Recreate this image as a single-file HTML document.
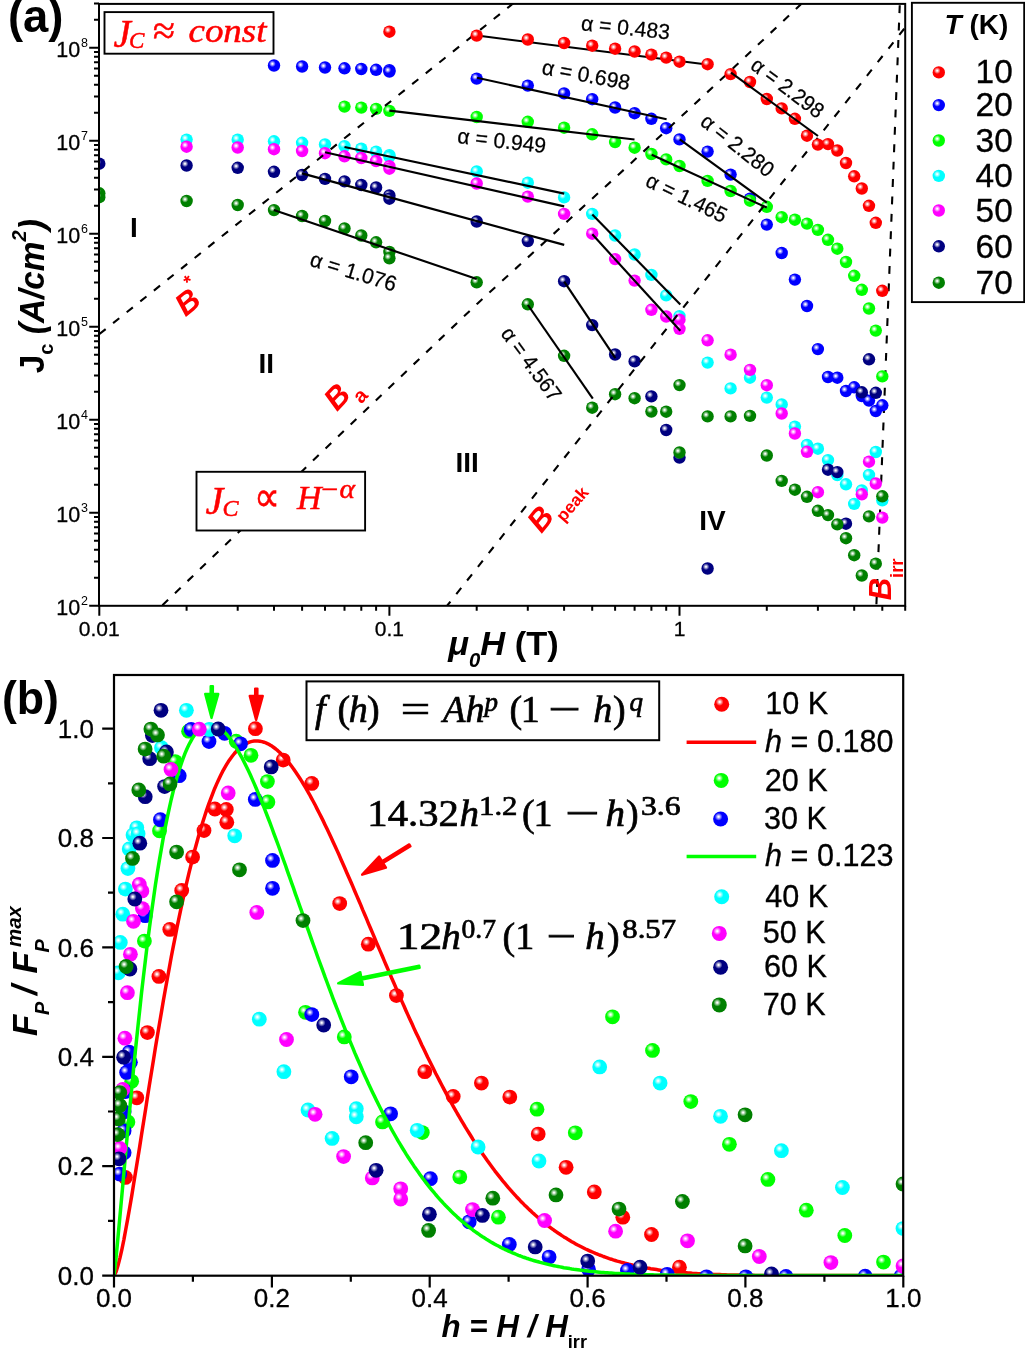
<!DOCTYPE html><html><head><meta charset="utf-8"><title>Figure</title>
<style>html,body{margin:0;padding:0;background:#fff}svg{display:block}text{font-family:"Liberation Sans",Arial,sans-serif;fill:#000}.t{stroke:#000;stroke-width:.3px}.s{font-family:"Liberation Serif","Times New Roman",serif}.b{font-weight:bold}.i{font-style:italic}.r{fill:#f00}</style></head><body>
<svg width="1025" height="1356" viewBox="0 0 1025 1356">
<defs>
<radialGradient id="gr" cx="0.37" cy="0.36" r="0.27"><stop offset="0" stop-color="#fff"/><stop offset="0.12" stop-color="#fff"/><stop offset="1" stop-color="#ff0000"/></radialGradient>
<radialGradient id="hr" cx="0.365" cy="0.35" r="0.26"><stop offset="0" stop-color="#fff"/><stop offset="0.12" stop-color="#fff"/><stop offset="1" stop-color="#ff0000"/></radialGradient>
<radialGradient id="gb" cx="0.37" cy="0.36" r="0.27"><stop offset="0" stop-color="#fff"/><stop offset="0.12" stop-color="#fff"/><stop offset="1" stop-color="#0000ff"/></radialGradient>
<radialGradient id="hb" cx="0.365" cy="0.35" r="0.26"><stop offset="0" stop-color="#fff"/><stop offset="0.12" stop-color="#fff"/><stop offset="1" stop-color="#0000ff"/></radialGradient>
<radialGradient id="gg" cx="0.37" cy="0.36" r="0.27"><stop offset="0" stop-color="#fff"/><stop offset="0.12" stop-color="#fff"/><stop offset="1" stop-color="#00ff00"/></radialGradient>
<radialGradient id="hg" cx="0.365" cy="0.35" r="0.26"><stop offset="0" stop-color="#fff"/><stop offset="0.12" stop-color="#fff"/><stop offset="1" stop-color="#00ff00"/></radialGradient>
<radialGradient id="gc" cx="0.37" cy="0.36" r="0.27"><stop offset="0" stop-color="#fff"/><stop offset="0.12" stop-color="#fff"/><stop offset="1" stop-color="#00ffff"/></radialGradient>
<radialGradient id="hc" cx="0.365" cy="0.35" r="0.26"><stop offset="0" stop-color="#fff"/><stop offset="0.12" stop-color="#fff"/><stop offset="1" stop-color="#00ffff"/></radialGradient>
<radialGradient id="gm" cx="0.37" cy="0.36" r="0.27"><stop offset="0" stop-color="#fff"/><stop offset="0.12" stop-color="#fff"/><stop offset="1" stop-color="#ff00ff"/></radialGradient>
<radialGradient id="hm" cx="0.365" cy="0.35" r="0.26"><stop offset="0" stop-color="#fff"/><stop offset="0.12" stop-color="#fff"/><stop offset="1" stop-color="#ff00ff"/></radialGradient>
<radialGradient id="gn" cx="0.37" cy="0.36" r="0.27"><stop offset="0" stop-color="#fff"/><stop offset="0.12" stop-color="#fff"/><stop offset="1" stop-color="#000080"/></radialGradient>
<radialGradient id="hn" cx="0.365" cy="0.35" r="0.26"><stop offset="0" stop-color="#fff"/><stop offset="0.12" stop-color="#fff"/><stop offset="1" stop-color="#000080"/></radialGradient>
<radialGradient id="gd" cx="0.37" cy="0.36" r="0.27"><stop offset="0" stop-color="#fff"/><stop offset="0.12" stop-color="#fff"/><stop offset="1" stop-color="#008000"/></radialGradient>
<radialGradient id="hd" cx="0.365" cy="0.35" r="0.26"><stop offset="0" stop-color="#fff"/><stop offset="0.12" stop-color="#fff"/><stop offset="1" stop-color="#008000"/></radialGradient>
<clipPath id="ca"><rect x="99.0" y="3.9" width="806.2" height="601.9"/></clipPath>
<clipPath id="cb"><rect x="114" y="675" width="789.2" height="600.7"/></clipPath>
</defs>
<rect width="1025" height="1356" fill="#fff"/>
<g clip-path="url(#ca)">
<g stroke="#000" stroke-width="2" fill="none">
<line x1="477" y1="35.6" x2="703" y2="64"/>
<line x1="899.75" y1="5.2" x2="876.4" y2="604.5" stroke-width="2.1" stroke-dasharray="7.9 9.5"/>
</g>
<circle cx="274.0" cy="65.5" r="6.2" fill="url(#gb)"/><circle cx="302.1" cy="66.5" r="6.2" fill="url(#gb)"/><circle cx="325.0" cy="67.5" r="6.2" fill="url(#gb)"/><circle cx="344.5" cy="68.3" r="6.2" fill="url(#gb)"/><circle cx="361.3" cy="69.0" r="6.2" fill="url(#gb)"/><circle cx="376.1" cy="69.8" r="6.2" fill="url(#gb)"/><circle cx="389.4" cy="70.2" r="6.2" fill="url(#gb)"/><circle cx="389.4" cy="71.6" r="6.2" fill="url(#gb)"/><circle cx="476.7" cy="78.6" r="6.2" fill="url(#gb)"/><circle cx="527.8" cy="85.6" r="6.2" fill="url(#gb)"/><circle cx="564.1" cy="93.4" r="6.2" fill="url(#gb)"/><circle cx="592.2" cy="99.2" r="6.2" fill="url(#gb)"/><circle cx="615.1" cy="107.5" r="6.2" fill="url(#gb)"/><circle cx="634.6" cy="113.2" r="6.2" fill="url(#gb)"/><circle cx="651.4" cy="118.8" r="6.2" fill="url(#gb)"/><circle cx="666.2" cy="128.2" r="6.2" fill="url(#gb)"/><circle cx="679.5" cy="139.4" r="6.2" fill="url(#gb)"/><circle cx="707.6" cy="151.6" r="6.2" fill="url(#gb)"/><circle cx="730.6" cy="174.6" r="6.2" fill="url(#gb)"/><circle cx="750.0" cy="198.7" r="6.2" fill="url(#gb)"/><circle cx="766.8" cy="224.6" r="6.2" fill="url(#gb)"/><circle cx="781.7" cy="253.0" r="6.2" fill="url(#gb)"/><circle cx="794.9" cy="279.6" r="6.2" fill="url(#gb)"/><circle cx="807.0" cy="306.0" r="6.2" fill="url(#gb)"/><circle cx="817.9" cy="349.1" r="6.2" fill="url(#gb)"/><circle cx="828.0" cy="377.0" r="6.2" fill="url(#gb)"/><circle cx="837.3" cy="377.7" r="6.2" fill="url(#gb)"/><circle cx="846.0" cy="391.0" r="6.2" fill="url(#gb)"/><circle cx="854.2" cy="387.3" r="6.2" fill="url(#gb)"/><circle cx="861.8" cy="396.0" r="6.2" fill="url(#gb)"/><circle cx="869.0" cy="400.6" r="6.2" fill="url(#gb)"/><circle cx="875.8" cy="411.0" r="6.2" fill="url(#gb)"/><circle cx="882.3" cy="405.3" r="6.2" fill="url(#gb)"/>
<circle cx="344.5" cy="106.6" r="6.2" fill="url(#gg)"/><circle cx="361.3" cy="107.6" r="6.2" fill="url(#gg)"/><circle cx="376.1" cy="108.9" r="6.2" fill="url(#gg)"/><circle cx="389.4" cy="110.9" r="6.2" fill="url(#gg)"/><circle cx="476.7" cy="117.0" r="6.2" fill="url(#gg)"/><circle cx="527.8" cy="121.8" r="6.2" fill="url(#gg)"/><circle cx="564.1" cy="127.7" r="6.2" fill="url(#gg)"/><circle cx="592.2" cy="134.3" r="6.2" fill="url(#gg)"/><circle cx="615.1" cy="142.1" r="6.2" fill="url(#gg)"/><circle cx="634.6" cy="147.7" r="6.2" fill="url(#gg)"/><circle cx="651.4" cy="154.0" r="6.2" fill="url(#gg)"/><circle cx="666.2" cy="159.4" r="6.2" fill="url(#gg)"/><circle cx="679.5" cy="166.0" r="6.2" fill="url(#gg)"/><circle cx="707.6" cy="180.9" r="6.2" fill="url(#gg)"/><circle cx="730.6" cy="191.0" r="6.2" fill="url(#gg)"/><circle cx="750.0" cy="200.7" r="6.2" fill="url(#gg)"/><circle cx="766.8" cy="206.8" r="6.2" fill="url(#gg)"/><circle cx="781.7" cy="217.2" r="6.2" fill="url(#gg)"/><circle cx="794.9" cy="219.7" r="6.2" fill="url(#gg)"/><circle cx="807.0" cy="223.6" r="6.2" fill="url(#gg)"/><circle cx="817.9" cy="229.9" r="6.2" fill="url(#gg)"/><circle cx="828.0" cy="239.8" r="6.2" fill="url(#gg)"/><circle cx="837.3" cy="248.7" r="6.2" fill="url(#gg)"/><circle cx="846.0" cy="262.0" r="6.2" fill="url(#gg)"/><circle cx="854.2" cy="275.8" r="6.2" fill="url(#gg)"/><circle cx="861.8" cy="289.8" r="6.2" fill="url(#gg)"/><circle cx="869.0" cy="308.5" r="6.2" fill="url(#gg)"/><circle cx="875.8" cy="330.6" r="6.2" fill="url(#gg)"/><circle cx="882.3" cy="376.4" r="6.2" fill="url(#gg)"/>
<circle cx="186.6" cy="139.6" r="6.2" fill="url(#gc)"/><circle cx="237.7" cy="139.7" r="6.2" fill="url(#gc)"/><circle cx="274.0" cy="141.3" r="6.2" fill="url(#gc)"/><circle cx="302.1" cy="142.8" r="6.2" fill="url(#gc)"/><circle cx="325.0" cy="144.4" r="6.2" fill="url(#gc)"/><circle cx="344.5" cy="146.1" r="6.2" fill="url(#gc)"/><circle cx="361.3" cy="148.7" r="6.2" fill="url(#gc)"/><circle cx="376.1" cy="151.6" r="6.2" fill="url(#gc)"/><circle cx="389.4" cy="155.2" r="6.2" fill="url(#gc)"/><circle cx="389.4" cy="156.6" r="6.2" fill="url(#gc)"/><circle cx="476.7" cy="171.5" r="6.2" fill="url(#gc)"/><circle cx="527.8" cy="182.7" r="6.2" fill="url(#gc)"/><circle cx="564.1" cy="197.4" r="6.2" fill="url(#gc)"/><circle cx="592.2" cy="213.9" r="6.2" fill="url(#gc)"/><circle cx="615.1" cy="235.5" r="6.2" fill="url(#gc)"/><circle cx="634.6" cy="254.5" r="6.2" fill="url(#gc)"/><circle cx="651.4" cy="274.9" r="6.2" fill="url(#gc)"/><circle cx="666.2" cy="295.4" r="6.2" fill="url(#gc)"/><circle cx="679.5" cy="316.1" r="6.2" fill="url(#gc)"/><circle cx="707.6" cy="362.6" r="6.2" fill="url(#gc)"/><circle cx="730.6" cy="388.4" r="6.2" fill="url(#gc)"/><circle cx="750.0" cy="377.7" r="6.2" fill="url(#gc)"/><circle cx="766.8" cy="397.6" r="6.2" fill="url(#gc)"/><circle cx="781.7" cy="404.4" r="6.2" fill="url(#gc)"/><circle cx="794.9" cy="426.6" r="6.2" fill="url(#gc)"/><circle cx="807.0" cy="445.0" r="6.2" fill="url(#gc)"/><circle cx="817.9" cy="448.7" r="6.2" fill="url(#gc)"/><circle cx="828.0" cy="460.1" r="6.2" fill="url(#gc)"/><circle cx="837.3" cy="475.0" r="6.2" fill="url(#gc)"/><circle cx="846.0" cy="484.3" r="6.2" fill="url(#gc)"/><circle cx="854.2" cy="503.9" r="6.2" fill="url(#gc)"/><circle cx="861.8" cy="490.5" r="6.2" fill="url(#gc)"/><circle cx="869.0" cy="475.0" r="6.2" fill="url(#gc)"/><circle cx="875.8" cy="452.0" r="6.2" fill="url(#gc)"/><circle cx="882.3" cy="500.3" r="6.2" fill="url(#gc)"/>
<circle cx="186.6" cy="146.7" r="6.2" fill="url(#gm)"/><circle cx="237.7" cy="147.5" r="6.2" fill="url(#gm)"/><circle cx="274.0" cy="149.2" r="6.2" fill="url(#gm)"/><circle cx="302.1" cy="151.0" r="6.2" fill="url(#gm)"/><circle cx="325.0" cy="153.2" r="6.2" fill="url(#gm)"/><circle cx="344.5" cy="156.3" r="6.2" fill="url(#gm)"/><circle cx="361.3" cy="158.0" r="6.2" fill="url(#gm)"/><circle cx="376.1" cy="161.0" r="6.2" fill="url(#gm)"/><circle cx="389.4" cy="166.2" r="6.2" fill="url(#gm)"/><circle cx="389.4" cy="168.7" r="6.2" fill="url(#gm)"/><circle cx="476.7" cy="183.5" r="6.2" fill="url(#gm)"/><circle cx="527.8" cy="196.6" r="6.2" fill="url(#gm)"/><circle cx="564.1" cy="213.9" r="6.2" fill="url(#gm)"/><circle cx="592.2" cy="233.7" r="6.2" fill="url(#gm)"/><circle cx="615.1" cy="259.1" r="6.2" fill="url(#gm)"/><circle cx="634.6" cy="280.6" r="6.2" fill="url(#gm)"/><circle cx="651.4" cy="309.8" r="6.2" fill="url(#gm)"/><circle cx="666.2" cy="316.5" r="6.2" fill="url(#gm)"/><circle cx="679.5" cy="319.7" r="6.2" fill="url(#gm)"/><circle cx="679.5" cy="328.8" r="6.2" fill="url(#gm)"/><circle cx="707.6" cy="340.3" r="6.2" fill="url(#gm)"/><circle cx="730.6" cy="354.7" r="6.2" fill="url(#gm)"/><circle cx="750.0" cy="369.9" r="6.2" fill="url(#gm)"/><circle cx="766.8" cy="385.2" r="6.2" fill="url(#gm)"/><circle cx="781.7" cy="413.5" r="6.2" fill="url(#gm)"/><circle cx="794.9" cy="433.5" r="6.2" fill="url(#gm)"/><circle cx="807.0" cy="451.8" r="6.2" fill="url(#gm)"/><circle cx="817.9" cy="492.2" r="6.2" fill="url(#gm)"/><circle cx="861.8" cy="494.3" r="6.2" fill="url(#gm)"/><circle cx="869.0" cy="461.7" r="6.2" fill="url(#gm)"/><circle cx="875.8" cy="483.5" r="6.2" fill="url(#gm)"/><circle cx="882.3" cy="517.6" r="6.2" fill="url(#gm)"/>
<circle cx="99.3" cy="163.7" r="6.2" fill="url(#gn)"/><circle cx="186.6" cy="165.5" r="6.2" fill="url(#gn)"/><circle cx="237.7" cy="167.8" r="6.2" fill="url(#gn)"/><circle cx="274.0" cy="171.8" r="6.2" fill="url(#gn)"/><circle cx="302.1" cy="175.0" r="6.2" fill="url(#gn)"/><circle cx="325.0" cy="178.9" r="6.2" fill="url(#gn)"/><circle cx="344.5" cy="181.4" r="6.2" fill="url(#gn)"/><circle cx="361.3" cy="185.0" r="6.2" fill="url(#gn)"/><circle cx="376.1" cy="187.5" r="6.2" fill="url(#gn)"/><circle cx="389.4" cy="195.4" r="6.2" fill="url(#gn)"/><circle cx="389.4" cy="198.7" r="6.2" fill="url(#gn)"/><circle cx="476.7" cy="221.5" r="6.2" fill="url(#gn)"/><circle cx="527.8" cy="241.1" r="6.2" fill="url(#gn)"/><circle cx="564.1" cy="281.2" r="6.2" fill="url(#gn)"/><circle cx="592.2" cy="325.1" r="6.2" fill="url(#gn)"/><circle cx="615.1" cy="354.5" r="6.2" fill="url(#gn)"/><circle cx="634.6" cy="361.4" r="6.2" fill="url(#gn)"/><circle cx="651.4" cy="396.4" r="6.2" fill="url(#gn)"/><circle cx="666.2" cy="430.0" r="6.2" fill="url(#gn)"/><circle cx="679.5" cy="457.6" r="6.2" fill="url(#gn)"/><circle cx="707.6" cy="568.5" r="6.2" fill="url(#gn)"/><circle cx="828.0" cy="469.7" r="6.2" fill="url(#gn)"/><circle cx="837.3" cy="472.1" r="6.2" fill="url(#gn)"/><circle cx="846.0" cy="523.7" r="6.2" fill="url(#gn)"/><circle cx="861.8" cy="392.3" r="6.2" fill="url(#gn)"/><circle cx="869.0" cy="359.3" r="6.2" fill="url(#gn)"/><circle cx="875.8" cy="392.8" r="6.2" fill="url(#gn)"/>
<circle cx="99.3" cy="193.3" r="6.2" fill="url(#gd)"/><circle cx="99.3" cy="197.2" r="6.2" fill="url(#gd)"/><circle cx="186.6" cy="201.0" r="6.2" fill="url(#gd)"/><circle cx="237.7" cy="205.0" r="6.2" fill="url(#gd)"/><circle cx="274.0" cy="210.1" r="6.2" fill="url(#gd)"/><circle cx="302.1" cy="216.0" r="6.2" fill="url(#gd)"/><circle cx="325.0" cy="221.0" r="6.2" fill="url(#gd)"/><circle cx="344.5" cy="228.4" r="6.2" fill="url(#gd)"/><circle cx="361.3" cy="235.5" r="6.2" fill="url(#gd)"/><circle cx="376.1" cy="242.3" r="6.2" fill="url(#gd)"/><circle cx="389.4" cy="252.0" r="6.2" fill="url(#gd)"/><circle cx="389.4" cy="258.3" r="6.2" fill="url(#gd)"/><circle cx="476.7" cy="282.3" r="6.2" fill="url(#gd)"/><circle cx="527.8" cy="304.3" r="6.2" fill="url(#gd)"/><circle cx="564.1" cy="355.8" r="6.2" fill="url(#gd)"/><circle cx="592.2" cy="407.7" r="6.2" fill="url(#gd)"/><circle cx="615.1" cy="394.2" r="6.2" fill="url(#gd)"/><circle cx="634.6" cy="398.2" r="6.2" fill="url(#gd)"/><circle cx="651.4" cy="411.6" r="6.2" fill="url(#gd)"/><circle cx="666.2" cy="411.7" r="6.2" fill="url(#gd)"/><circle cx="679.5" cy="385.1" r="6.2" fill="url(#gd)"/><circle cx="679.5" cy="452.5" r="6.2" fill="url(#gd)"/><circle cx="707.6" cy="416.4" r="6.2" fill="url(#gd)"/><circle cx="730.6" cy="416.4" r="6.2" fill="url(#gd)"/><circle cx="750.0" cy="415.9" r="6.2" fill="url(#gd)"/><circle cx="766.8" cy="455.5" r="6.2" fill="url(#gd)"/><circle cx="781.7" cy="480.9" r="6.2" fill="url(#gd)"/><circle cx="794.9" cy="489.7" r="6.2" fill="url(#gd)"/><circle cx="807.0" cy="496.8" r="6.2" fill="url(#gd)"/><circle cx="817.9" cy="510.8" r="6.2" fill="url(#gd)"/><circle cx="828.0" cy="515.1" r="6.2" fill="url(#gd)"/><circle cx="837.3" cy="524.4" r="6.2" fill="url(#gd)"/><circle cx="846.0" cy="538.2" r="6.2" fill="url(#gd)"/><circle cx="854.2" cy="555.2" r="6.2" fill="url(#gd)"/><circle cx="861.8" cy="575.5" r="6.2" fill="url(#gd)"/><circle cx="869.0" cy="516.4" r="6.2" fill="url(#gd)"/><circle cx="875.8" cy="563.7" r="6.2" fill="url(#gd)"/><circle cx="882.3" cy="496.3" r="6.2" fill="url(#gd)"/>
<g stroke="#000" stroke-width="2.1" fill="none" stroke-dasharray="7.9 9.5">
<line x1="99.5" y1="334" x2="513.4" y2="3.3"/>
<path d="M162.4 605.2L223.85 546.3L351.7 423.4L477.6 303.4L569.3 219.5L631 163.2L734.9 66.6L801.2 4"/>
<line x1="447.3" y1="605.5" x2="904.4" y2="28.5" stroke-dashoffset="2.9"/>
</g>
<circle cx="389.4" cy="31.7" r="6.2" fill="url(#gr)"/><circle cx="476.7" cy="35.6" r="6.2" fill="url(#gr)"/><circle cx="527.8" cy="39.5" r="6.2" fill="url(#gr)"/><circle cx="564.1" cy="43.0" r="6.2" fill="url(#gr)"/><circle cx="592.2" cy="45.7" r="6.2" fill="url(#gr)"/><circle cx="615.1" cy="48.7" r="6.2" fill="url(#gr)"/><circle cx="634.6" cy="51.5" r="6.2" fill="url(#gr)"/><circle cx="651.4" cy="54.6" r="6.2" fill="url(#gr)"/><circle cx="666.2" cy="57.6" r="6.2" fill="url(#gr)"/><circle cx="679.5" cy="61.7" r="6.2" fill="url(#gr)"/><circle cx="707.6" cy="64.2" r="6.2" fill="url(#gr)"/><circle cx="730.6" cy="74.1" r="6.2" fill="url(#gr)"/><circle cx="750.0" cy="82.0" r="6.2" fill="url(#gr)"/><circle cx="766.8" cy="99.0" r="6.2" fill="url(#gr)"/><circle cx="781.7" cy="108.4" r="6.2" fill="url(#gr)"/><circle cx="794.9" cy="118.8" r="6.2" fill="url(#gr)"/><circle cx="807.0" cy="135.7" r="6.2" fill="url(#gr)"/><circle cx="817.9" cy="144.6" r="6.2" fill="url(#gr)"/><circle cx="828.0" cy="144.1" r="6.2" fill="url(#gr)"/><circle cx="837.3" cy="150.5" r="6.2" fill="url(#gr)"/><circle cx="846.0" cy="163.0" r="6.2" fill="url(#gr)"/><circle cx="854.2" cy="176.3" r="6.2" fill="url(#gr)"/><circle cx="861.8" cy="188.5" r="6.2" fill="url(#gr)"/><circle cx="869.0" cy="205.8" r="6.2" fill="url(#gr)"/><circle cx="875.8" cy="222.8" r="6.2" fill="url(#gr)"/><circle cx="882.3" cy="290.8" r="6.2" fill="url(#gr)"/>
<g stroke="#000" stroke-width="2.15" fill="none">
<line x1="477.0" y1="77.8" x2="666.6" y2="119.2"/>
<line x1="389.4" y1="110.6" x2="634.5" y2="139.5"/>
<line x1="344.5" y1="147.0" x2="564.2" y2="193.6"/>
<line x1="325.0" y1="152.2" x2="564.2" y2="206.4"/>
<line x1="302.0" y1="173.4" x2="564.2" y2="244.9"/>
<line x1="273.8" y1="210.0" x2="476.7" y2="279.0"/>
<line x1="731.0" y1="72.7" x2="818.0" y2="136.0"/>
<line x1="679.8" y1="139.3" x2="766.8" y2="202.6"/>
<line x1="651.7" y1="154.7" x2="766.8" y2="207.6"/>
<line x1="592.3" y1="214.4" x2="680.3" y2="304.6"/>
<line x1="592.3" y1="234.3" x2="680.3" y2="330.8"/>
<line x1="564.2" y1="281.6" x2="615.4" y2="358.2"/>
<line x1="527.9" y1="305.0" x2="592.8" y2="398.6"/>
</g>
</g>
<rect x="196.5" y="471.8" width="168.6" height="58.7" fill="#fff" stroke="#000" stroke-width="1.9"/>
<rect x="104.5" y="12.1" width="169" height="41.6" fill="#fff" stroke="#000" stroke-width="1.9"/>
<rect x="99.0" y="3.9" width="806.2" height="601.9" fill="none" stroke="#000" stroke-width="2"/>
<path d="M99.0 605.8H89.2M99.0 577.8H94.0M99.0 561.4H94.0M99.0 549.8H94.0M99.0 540.8H94.0M99.0 533.4H94.0M99.0 527.2H94.0M99.0 521.8H94.0M99.0 517.1H94.0M99.0 512.8H89.2M99.0 484.8H94.0M99.0 468.4H94.0M99.0 456.8H94.0M99.0 447.8H94.0M99.0 440.4H94.0M99.0 434.2H94.0M99.0 428.8H94.0M99.0 424.1H94.0M99.0 419.8H89.2M99.0 391.8H94.0M99.0 375.4H94.0M99.0 363.8H94.0M99.0 354.8H94.0M99.0 347.4H94.0M99.0 341.2H94.0M99.0 335.8H94.0M99.0 331.1H94.0M99.0 326.8H89.2M99.0 298.8H94.0M99.0 282.4H94.0M99.0 270.8H94.0M99.0 261.8H94.0M99.0 254.4H94.0M99.0 248.2H94.0M99.0 242.8H94.0M99.0 238.1H94.0M99.0 233.8H89.2M99.0 205.8H94.0M99.0 189.4H94.0M99.0 177.8H94.0M99.0 168.8H94.0M99.0 161.4H94.0M99.0 155.2H94.0M99.0 149.8H94.0M99.0 145.1H94.0M99.0 140.8H89.2M99.0 112.8H94.0M99.0 96.4H94.0M99.0 84.8H94.0M99.0 75.8H94.0M99.0 68.4H94.0M99.0 62.2H94.0M99.0 56.8H94.0M99.0 52.1H94.0M99.0 47.8H89.2M99.0 19.8H94.0M99.0 3.4H94.0M99.3 605.8V615.8M186.6 605.8V610.8M237.7 605.8V610.8M274.0 605.8V610.8M302.1 605.8V610.8M325.0 605.8V610.8M344.5 605.8V610.8M361.3 605.8V610.8M376.1 605.8V610.8M389.4 605.8V615.8M476.7 605.8V610.8M527.8 605.8V610.8M564.1 605.8V610.8M592.2 605.8V610.8M615.1 605.8V610.8M634.6 605.8V610.8M651.4 605.8V610.8M666.2 605.8V610.8M679.5 605.8V615.8M766.8 605.8V610.8M817.9 605.8V610.8M854.2 605.8V610.8M882.3 605.8V610.8M905.2 605.8V610.8" stroke="#000" stroke-width="2" fill="none"/>
<text x="80.2" y="614.7" font-size="21.5" text-anchor="end" class="t">10</text><text x="81" y="604.5" font-size="12.5">2</text>
<text x="80.2" y="521.7" font-size="21.5" text-anchor="end" class="t">10</text><text x="81" y="511.5" font-size="12.5">3</text>
<text x="80.2" y="428.7" font-size="21.5" text-anchor="end" class="t">10</text><text x="81" y="418.5" font-size="12.5">4</text>
<text x="80.2" y="335.7" font-size="21.5" text-anchor="end" class="t">10</text><text x="81" y="325.5" font-size="12.5">5</text>
<text x="80.2" y="242.7" font-size="21.5" text-anchor="end" class="t">10</text><text x="81" y="232.5" font-size="12.5">6</text>
<text x="80.2" y="149.7" font-size="21.5" text-anchor="end" class="t">10</text><text x="81" y="139.5" font-size="12.5">7</text>
<text x="80.2" y="56.7" font-size="21.5" text-anchor="end" class="t">10</text><text x="81" y="46.5" font-size="12.5">8</text>
<text x="99.3" y="636.2" font-size="21" text-anchor="middle" class="t">0.01</text>
<text x="389.4" y="636.2" font-size="21" text-anchor="middle" class="t">0.1</text>
<text x="679.5" y="636.2" font-size="21" text-anchor="middle" class="t">1</text>
<text x="448.2" y="654.6" font-size="34" class="b i" textLength="110.5" lengthAdjust="spacingAndGlyphs">μ<tspan font-size="20" dy="12.4">0</tspan><tspan dy="-12.4">H</tspan><tspan font-style="normal"> (T)</tspan></text>
<g transform="translate(43.7,373.2) rotate(-90)"><text x="0" y="0" font-size="35" class="b i" textLength="154" lengthAdjust="spacingAndGlyphs"><tspan font-style="normal">J</tspan><tspan font-size="21" dy="9" font-style="normal">c</tspan><tspan dy="-9"> (A/cm</tspan><tspan font-size="21" dy="-18">2</tspan><tspan dy="18">)</tspan></text></g>
<text x="8" y="32.2" font-size="46" class="b" textLength="55.5" lengthAdjust="spacingAndGlyphs">(a)</text>
<text x="134" y="237.1" font-size="28" class="b" text-anchor="middle">I</text>
<text x="266.3" y="372.7" font-size="28" class="b" text-anchor="middle">II</text>
<text x="467.1" y="471.5" font-size="28" class="b" text-anchor="middle">III</text>
<text x="712.5" y="529.9" font-size="28" class="b" text-anchor="middle">IV</text>
<text y="42" font-size="33" class="s i r" stroke="#f00" stroke-width="0.5"><tspan x="113.5" y="46.5" font-size="39">J</tspan><tspan x="129" y="48" font-size="23">C</tspan><tspan x="153" y="43.5" font-size="40" font-style="normal">≈</tspan><tspan x="188.5" y="42" textLength="78" lengthAdjust="spacingAndGlyphs">const</tspan></text>
<text y="509.3" font-size="34" class="s i r" stroke="#f00" stroke-width="0.5"><tspan x="205.5" y="514" font-size="40">J</tspan><tspan x="222.5" y="516.3" font-size="24">C</tspan><tspan x="253.5" y="510.5" font-size="42" font-style="normal" textLength="26" lengthAdjust="spacingAndGlyphs">∝</tspan><tspan x="297" y="509.3">H</tspan><tspan x="321.5" y="497.8" font-size="26" font-style="normal" textLength="17" lengthAdjust="spacingAndGlyphs">−</tspan><tspan x="339.5" y="497.8" font-size="28" textLength="15.5" lengthAdjust="spacingAndGlyphs">α</tspan></text>
<g transform="translate(624.8,34.8) rotate(6.0)"><text x="0" y="0" font-size="21.5" text-anchor="middle" textLength="89" lengthAdjust="spacingAndGlyphs" stroke="#000" stroke-width="0.25">α = 0.483</text></g>
<g transform="translate(584.7,82.1) rotate(10.5)"><text x="0" y="0" font-size="21.5" text-anchor="middle" textLength="89" lengthAdjust="spacingAndGlyphs" stroke="#000" stroke-width="0.25">α = 0.698</text></g>
<g transform="translate(501.0,148.1) rotate(6.5)"><text x="0" y="0" font-size="21.5" text-anchor="middle" textLength="89" lengthAdjust="spacingAndGlyphs" stroke="#000" stroke-width="0.25">α = 0.949</text></g>
<g transform="translate(351.3,278.6) rotate(17.0)"><text x="0" y="0" font-size="21.5" text-anchor="middle" textLength="89" lengthAdjust="spacingAndGlyphs" stroke="#000" stroke-width="0.25">α = 1.076</text></g>
<g transform="translate(783.2,93.6) rotate(37.0)"><text x="0" y="0" font-size="21.5" text-anchor="middle" textLength="85" lengthAdjust="spacingAndGlyphs" stroke="#000" stroke-width="0.25">α = 2.298</text></g>
<g transform="translate(733.0,151.0) rotate(38.5)"><text x="0" y="0" font-size="21.5" text-anchor="middle" textLength="87" lengthAdjust="spacingAndGlyphs" stroke="#000" stroke-width="0.25">α = 2.280</text></g>
<g transform="translate(683.5,204.4) rotate(25.8)"><text x="0" y="0" font-size="21.5" text-anchor="middle" textLength="87" lengthAdjust="spacingAndGlyphs" stroke="#000" stroke-width="0.25">α = 1.465</text></g>
<g transform="translate(525.5,368.2) rotate(53.5)"><text x="0" y="0" font-size="21.5" text-anchor="middle" textLength="86" lengthAdjust="spacingAndGlyphs" stroke="#000" stroke-width="0.25">α = 4.567</text></g>
<g transform="translate(187.1,301.7) rotate(-39.0)"><text x="0" y="11.1" font-size="31" class="b i r" text-anchor="middle">B</text></g>
<g transform="translate(187.1,279.5) rotate(-39.0)"><text x="0" y="9.0" font-size="19" class="b r" text-anchor="middle">*</text></g>
<g transform="translate(336.4,396.6) rotate(-47.0)"><text x="0" y="11.1" font-size="31" class="b i r" text-anchor="middle">B</text></g>
<g transform="translate(361.2,396.6) rotate(-47.0)"><text x="0" y="5.3" font-size="20.5" class="b r" text-anchor="middle">a</text></g>
<g transform="translate(539.9,518.5) rotate(-51.0)"><text x="0" y="11.1" font-size="31" class="b i r" text-anchor="middle">B</text></g>
<g transform="translate(573.6,505.3) rotate(-49.0)"><text x="0" y="4.0" font-size="17.3" class="b r" text-anchor="middle">peak</text></g>
<g transform="translate(891.3,600.3) rotate(-90)"><text x="0" y="0" font-size="31" class="b i r">B</text></g>
<g transform="translate(902.6,578) rotate(-90)"><text x="0" y="0" font-size="18.5" class="b r">irr</text></g>
<rect x="911.9" y="2.8" width="112.3" height="299.3" fill="#fff" stroke="#000" stroke-width="1.9"/>
<text x="944.5" y="34" font-size="28" class="b"><tspan class="i">T</tspan> (K)</text>
<circle cx="938.8" cy="72.4" r="6.2" fill="url(#gr)"/><text x="1012.8" y="82.8" font-size="32.3" text-anchor="end" class="t" textLength="37.2" lengthAdjust="spacingAndGlyphs">10</text>
<circle cx="938.8" cy="105.1" r="6.2" fill="url(#gb)"/><text x="1012.8" y="116.4" font-size="32.3" text-anchor="end" class="t" textLength="37.2" lengthAdjust="spacingAndGlyphs">20</text>
<circle cx="938.8" cy="140.5" r="6.2" fill="url(#gg)"/><text x="1012.8" y="151.6" font-size="32.3" text-anchor="end" class="t" textLength="37.2" lengthAdjust="spacingAndGlyphs">30</text>
<circle cx="938.8" cy="175.9" r="6.2" fill="url(#gc)"/><text x="1012.8" y="187.2" font-size="32.3" text-anchor="end" class="t" textLength="37.2" lengthAdjust="spacingAndGlyphs">40</text>
<circle cx="938.8" cy="210.5" r="6.2" fill="url(#gm)"/><text x="1012.8" y="221.8" font-size="32.3" text-anchor="end" class="t" textLength="37.2" lengthAdjust="spacingAndGlyphs">50</text>
<circle cx="938.8" cy="246.3" r="6.2" fill="url(#gn)"/><text x="1012.8" y="257.7" font-size="32.3" text-anchor="end" class="t" textLength="37.2" lengthAdjust="spacingAndGlyphs">60</text>
<circle cx="938.8" cy="282.7" r="6.2" fill="url(#gd)"/><text x="1012.8" y="294.3" font-size="32.3" text-anchor="end" class="t" textLength="37.2" lengthAdjust="spacingAndGlyphs">70</text>
<g clip-path="url(#cb)">
<circle cx="255.4" cy="728.7" r="7.4" fill="url(#hr)"/><circle cx="283.2" cy="760.1" r="7.4" fill="url(#hr)"/><circle cx="311.8" cy="783.4" r="7.4" fill="url(#hr)"/><circle cx="214.9" cy="809.0" r="7.4" fill="url(#hr)"/><circle cx="226.3" cy="809.5" r="7.4" fill="url(#hr)"/><circle cx="226.8" cy="822.2" r="7.4" fill="url(#hr)"/><circle cx="204.0" cy="830.6" r="7.4" fill="url(#hr)"/><circle cx="192.6" cy="857.1" r="7.4" fill="url(#hr)"/><circle cx="181.7" cy="890.4" r="7.4" fill="url(#hr)"/><circle cx="169.8" cy="929.4" r="7.4" fill="url(#hr)"/><circle cx="158.9" cy="976.4" r="7.4" fill="url(#hr)"/><circle cx="339.7" cy="903.6" r="7.4" fill="url(#hr)"/><circle cx="147.4" cy="1032.6" r="7.4" fill="url(#hr)"/><circle cx="136.8" cy="1097.8" r="7.4" fill="url(#hr)"/><circle cx="125.4" cy="1177.4" r="7.4" fill="url(#hr)"/><circle cx="368.3" cy="944.2" r="7.4" fill="url(#hr)"/><circle cx="396.4" cy="995.6" r="7.4" fill="url(#hr)"/><circle cx="424.8" cy="1071.7" r="7.4" fill="url(#hr)"/><circle cx="453.2" cy="1096.5" r="7.4" fill="url(#hr)"/><circle cx="481.4" cy="1083.1" r="7.4" fill="url(#hr)"/><circle cx="509.8" cy="1097.1" r="7.4" fill="url(#hr)"/><circle cx="538.2" cy="1134.1" r="7.4" fill="url(#hr)"/><circle cx="566.1" cy="1167.3" r="7.4" fill="url(#hr)"/><circle cx="594.3" cy="1191.9" r="7.4" fill="url(#hr)"/><circle cx="622.8" cy="1217.2" r="7.4" fill="url(#hr)"/><circle cx="651.5" cy="1234.5" r="7.4" fill="url(#hr)"/><circle cx="679.4" cy="1267.2" r="7.4" fill="url(#hr)"/>
<path d="M114.0 1275.6L116.0 1272.0L117.9 1265.8L119.9 1258.1L121.9 1249.3L123.9 1239.6L125.8 1229.2L127.8 1218.4L129.8 1207.0L131.8 1195.4L133.7 1183.5L135.7 1171.3L137.7 1159.0L139.7 1146.6L141.6 1134.2L143.6 1121.7L145.6 1109.2L147.5 1096.7L149.5 1084.3L151.5 1072.0L153.5 1059.8L155.4 1047.7L157.4 1035.8L159.4 1024.0L161.4 1012.4L163.3 1001.0L165.3 989.7L167.3 978.7L169.3 967.9L171.2 957.3L173.2 946.9L175.2 936.8L177.1 926.9L179.1 917.3L181.1 907.9L183.1 898.8L185.0 889.9L187.0 881.3L189.0 872.9L191.0 864.9L192.9 857.0L194.9 849.5L196.9 842.2L198.8 835.2L200.8 828.5L202.8 822.0L204.8 815.8L206.7 809.9L208.7 804.2L210.7 798.8L212.7 793.6L214.6 788.7L216.6 784.1L218.6 779.7L220.6 775.6L222.5 771.7L224.5 768.1L226.5 764.7L228.4 761.6L230.4 758.7L232.4 756.0L234.4 753.5L236.3 751.3L238.3 749.3L240.3 747.6L242.3 746.0L244.2 744.7L246.2 743.6L248.2 742.6L250.2 741.9L252.1 741.4L254.1 741.0L256.1 740.9L258.0 740.9L260.0 741.2L262.0 741.6L264.0 742.2L265.9 742.9L267.9 743.8L269.9 744.9L271.9 746.1L273.8 747.5L275.8 749.0L277.8 750.7L279.8 752.6L281.7 754.5L283.7 756.6L285.7 758.8L287.6 761.2L289.6 763.7L291.6 766.3L293.6 769.0L295.5 771.8L297.5 774.7L299.5 777.7L301.5 780.9L303.4 784.1L305.4 787.4L307.4 790.8L309.4 794.3L311.3 797.9L313.3 801.5L315.3 805.3L317.2 809.1L319.2 813.0L321.2 816.9L323.2 820.9L325.1 824.9L327.1 829.1L329.1 833.2L331.1 837.5L333.0 841.7L335.0 846.0L337.0 850.4L339.0 854.8L340.9 859.2L342.9 863.7L344.9 868.2L346.8 872.7L348.8 877.2L350.8 881.8L352.8 886.4L354.7 891.0L356.7 895.6L358.7 900.3L360.7 904.9L362.6 909.6L364.6 914.2L366.6 918.9L368.5 923.6L370.5 928.3L372.5 932.9L374.5 937.6L376.4 942.3L378.4 947.0L380.4 951.6L382.4 956.3L384.3 960.9L386.3 965.5L388.3 970.1L390.3 974.7L392.2 979.3L394.2 983.8L396.2 988.4L398.1 992.9L400.1 997.4L402.1 1001.9L404.1 1006.3L406.0 1010.7L408.0 1015.1L410.0 1019.5L412.0 1023.8L413.9 1028.1L415.9 1032.4L417.9 1036.6L419.9 1040.8L421.8 1045.0L423.8 1049.1L425.8 1053.2L427.7 1057.3L429.7 1061.3L431.7 1065.3L433.7 1069.3L435.6 1073.2L437.6 1077.0L439.6 1080.9L441.6 1084.7L443.5 1088.4L445.5 1092.1L447.5 1095.8L449.5 1099.4L451.4 1103.0L453.4 1106.6L455.4 1110.1L457.3 1113.5L459.3 1116.9L461.3 1120.3L463.3 1123.6L465.2 1126.9L467.2 1130.1L469.2 1133.3L471.2 1136.5L473.1 1139.6L475.1 1142.6L477.1 1145.6L479.1 1148.6L481.0 1151.5L483.0 1154.4L485.0 1157.2L486.9 1160.0L488.9 1162.8L490.9 1165.5L492.9 1168.2L494.8 1170.8L496.8 1173.3L498.8 1175.9L500.8 1178.4L502.7 1180.8L504.7 1183.2L506.7 1185.6L508.6 1187.9L510.6 1190.1L512.6 1192.4L514.6 1194.6L516.5 1196.7L518.5 1198.8L520.5 1200.9L522.5 1202.9L524.4 1204.9L526.4 1206.8L528.4 1208.8L530.4 1210.6L532.3 1212.5L534.3 1214.2L536.3 1216.0L538.2 1217.7L540.2 1219.4L542.2 1221.1L544.2 1222.7L546.1 1224.2L548.1 1225.8L550.1 1227.3L552.1 1228.8L554.0 1230.2L556.0 1231.6L558.0 1233.0L560.0 1234.3L561.9 1235.6L563.9 1236.9L565.9 1238.1L567.8 1239.3L569.8 1240.5L571.8 1241.7L573.8 1242.8L575.7 1243.9L577.7 1245.0L579.7 1246.0L581.7 1247.0L583.6 1248.0L585.6 1249.0L587.6 1249.9L589.6 1250.8L591.5 1251.7L593.5 1252.5L595.5 1253.4L597.4 1254.2L599.4 1255.0L601.4 1255.7L603.4 1256.5L605.3 1257.2L607.3 1257.9L609.3 1258.6L611.3 1259.2L613.2 1259.9L615.2 1260.5L617.2 1261.1L619.2 1261.6L621.1 1262.2L623.1 1262.7L625.1 1263.3L627.0 1263.8L629.0 1264.3L631.0 1264.7L633.0 1265.2L634.9 1265.6L636.9 1266.1L638.9 1266.5L640.9 1266.9L642.8 1267.3L644.8 1267.6L646.8 1268.0L648.8 1268.3L650.7 1268.7L652.7 1269.0L654.7 1269.3L656.6 1269.6L658.6 1269.9L660.6 1270.2L662.6 1270.4L664.5 1270.7L666.5 1270.9L668.5 1271.1L670.5 1271.4L672.4 1271.6L674.4 1271.8L676.4 1272.0L678.3 1272.2L680.3 1272.4L682.3 1272.5L684.3 1272.7L686.2 1272.8L688.2 1273.0L690.2 1273.1L692.2 1273.3L694.1 1273.4L696.1 1273.5L698.1 1273.7L700.1 1273.8L702.0 1273.9L704.0 1274.0L706.0 1274.1L707.9 1274.2L709.9 1274.3L711.9 1274.3L713.9 1274.4L715.8 1274.5L717.8 1274.6L719.8 1274.6L721.8 1274.7L723.7 1274.8L725.7 1274.8L727.7 1274.9L729.7 1274.9L731.6 1275.0L733.6 1275.0L735.6 1275.0L737.5 1275.1L739.5 1275.1L741.5 1275.2L743.5 1275.2L745.4 1275.2L747.4 1275.3L749.4 1275.3L751.4 1275.3L753.3 1275.3L755.3 1275.4L757.3 1275.4L759.3 1275.4L761.2 1275.4L763.2 1275.4L765.2 1275.4L767.1 1275.5L769.1 1275.5L771.1 1275.5L773.1 1275.5L775.0 1275.5L777.0 1275.5L779.0 1275.5L781.0 1275.5L782.9 1275.5L784.9 1275.5L786.9 1275.5L788.9 1275.6L790.8 1275.6L792.8 1275.6L794.8 1275.6L796.7 1275.6L798.7 1275.6L800.7 1275.6L802.7 1275.6L804.6 1275.6L806.6 1275.6L808.6 1275.6L810.6 1275.6L812.5 1275.6L814.5 1275.6L816.5 1275.6L818.5 1275.6L820.4 1275.6L822.4 1275.6L824.4 1275.6L826.3 1275.6L828.3 1275.6L830.3 1275.6L832.3 1275.6L834.2 1275.6L836.2 1275.6L838.2 1275.6L840.2 1275.6L842.1 1275.6L844.1 1275.6L846.1 1275.6L848.0 1275.6L850.0 1275.6L852.0 1275.6L854.0 1275.6L855.9 1275.6L857.9 1275.6L859.9 1275.6L861.9 1275.6L863.8 1275.6L865.8 1275.6L867.8 1275.6L869.8 1275.6L871.7 1275.6L873.7 1275.6L875.7 1275.6L877.6 1275.6L879.6 1275.6L881.6 1275.6L883.6 1275.6L885.5 1275.6L887.5 1275.6L889.5 1275.6L891.5 1275.6L893.4 1275.6L895.4 1275.6L897.4 1275.6L899.4 1275.6L901.3 1275.6L903.3 1275.6" fill="none" stroke="#f00" stroke-width="3.5" stroke-linejoin="round"/>
<circle cx="188.6" cy="731.2" r="7.4" fill="url(#hg)"/><circle cx="175.2" cy="761.6" r="7.4" fill="url(#hg)"/><circle cx="236.2" cy="741.2" r="7.4" fill="url(#hg)"/><circle cx="251.0" cy="755.3" r="7.4" fill="url(#hg)"/><circle cx="267.4" cy="781.6" r="7.4" fill="url(#hg)"/><circle cx="267.9" cy="801.9" r="7.4" fill="url(#hg)"/><circle cx="159.5" cy="830.8" r="7.4" fill="url(#hg)"/><circle cx="144.4" cy="941.1" r="7.4" fill="url(#hg)"/><circle cx="305.5" cy="1012.3" r="7.4" fill="url(#hg)"/><circle cx="344.3" cy="1036.9" r="7.4" fill="url(#hg)"/><circle cx="131.7" cy="1081.3" r="7.4" fill="url(#hg)"/><circle cx="127.9" cy="1121.9" r="7.4" fill="url(#hg)"/><circle cx="382.5" cy="1121.9" r="7.4" fill="url(#hg)"/><circle cx="422.3" cy="1132.6" r="7.4" fill="url(#hg)"/><circle cx="537.0" cy="1109.2" r="7.4" fill="url(#hg)"/><circle cx="575.3" cy="1132.8" r="7.4" fill="url(#hg)"/><circle cx="612.5" cy="1016.8" r="7.4" fill="url(#hg)"/><circle cx="459.8" cy="1177.1" r="7.4" fill="url(#hg)"/><circle cx="498.4" cy="1217.2" r="7.4" fill="url(#hg)"/><circle cx="652.5" cy="1050.4" r="7.4" fill="url(#hg)"/><circle cx="690.8" cy="1101.6" r="7.4" fill="url(#hg)"/><circle cx="729.4" cy="1144.3" r="7.4" fill="url(#hg)"/><circle cx="767.9" cy="1179.4" r="7.4" fill="url(#hg)"/><circle cx="806.3" cy="1210.2" r="7.4" fill="url(#hg)"/><circle cx="844.8" cy="1235.5" r="7.4" fill="url(#hg)"/><circle cx="883.5" cy="1262.1" r="7.4" fill="url(#hg)"/>
<circle cx="191.1" cy="729.4" r="7.4" fill="url(#hb)"/><circle cx="209.0" cy="741.6" r="7.4" fill="url(#hb)"/><circle cx="224.6" cy="733.3" r="7.4" fill="url(#hb)"/><circle cx="240.5" cy="743.8" r="7.4" fill="url(#hb)"/><circle cx="179.2" cy="775.7" r="7.4" fill="url(#hb)"/><circle cx="255.3" cy="799.4" r="7.4" fill="url(#hb)"/><circle cx="160.4" cy="819.7" r="7.4" fill="url(#hb)"/><circle cx="145.2" cy="915.7" r="7.4" fill="url(#hb)"/><circle cx="272.5" cy="860.4" r="7.4" fill="url(#hb)"/><circle cx="272.5" cy="888.3" r="7.4" fill="url(#hb)"/><circle cx="129.2" cy="1052.2" r="7.4" fill="url(#hb)"/><circle cx="130.4" cy="1062.3" r="7.4" fill="url(#hb)"/><circle cx="126.6" cy="1072.4" r="7.4" fill="url(#hb)"/><circle cx="125.4" cy="1091.5" r="7.4" fill="url(#hb)"/><circle cx="124.1" cy="1111.8" r="7.4" fill="url(#hb)"/><circle cx="124.1" cy="1130.8" r="7.4" fill="url(#hb)"/><circle cx="124.1" cy="1152.7" r="7.4" fill="url(#hb)"/><circle cx="119.8" cy="1174.1" r="7.4" fill="url(#hb)"/><circle cx="311.8" cy="1014.6" r="7.4" fill="url(#hb)"/><circle cx="351.2" cy="1076.8" r="7.4" fill="url(#hb)"/><circle cx="390.6" cy="1113.8" r="7.4" fill="url(#hb)"/><circle cx="430.4" cy="1178.7" r="7.4" fill="url(#hb)"/><circle cx="469.2" cy="1221.8" r="7.4" fill="url(#hb)"/><circle cx="509.3" cy="1244.4" r="7.4" fill="url(#hb)"/><circle cx="549.1" cy="1257.1" r="7.4" fill="url(#hb)"/><circle cx="588.5" cy="1269.2" r="7.4" fill="url(#hb)"/><circle cx="627.4" cy="1270.5" r="7.4" fill="url(#hb)"/><circle cx="667.2" cy="1274.3" r="7.4" fill="url(#hb)"/><circle cx="706.5" cy="1276.8" r="7.4" fill="url(#hb)"/><circle cx="745.9" cy="1276.8" r="7.4" fill="url(#hb)"/><circle cx="786.0" cy="1276.5" r="7.4" fill="url(#hb)"/><circle cx="865.2" cy="1276.2" r="7.4" fill="url(#hb)"/><circle cx="901.0" cy="1276.2" r="7.4" fill="url(#hb)"/>
<path d="M114.0 1275.6L116.0 1258.7L117.9 1238.2L119.9 1216.7L121.9 1194.8L123.9 1172.8L125.8 1151.0L127.8 1129.4L129.8 1108.3L131.8 1087.6L133.7 1067.4L135.7 1047.7L137.7 1028.7L139.7 1010.2L141.6 992.3L143.6 975.1L145.6 958.5L147.5 942.6L149.5 927.3L151.5 912.6L153.5 898.5L155.4 885.1L157.4 872.3L159.4 860.1L161.4 848.6L163.3 837.6L165.3 827.2L167.3 817.4L169.3 808.2L171.2 799.5L173.2 791.4L175.2 783.8L177.1 776.7L179.1 770.1L181.1 764.1L183.1 758.5L185.0 753.4L187.0 748.7L189.0 744.5L191.0 740.8L192.9 737.4L194.9 734.5L196.9 732.0L198.8 729.8L200.8 728.1L202.8 726.7L204.8 725.6L206.7 724.9L208.7 724.5L210.7 724.5L212.7 724.7L214.6 725.3L216.6 726.1L218.6 727.2L220.6 728.6L222.5 730.2L224.5 732.1L226.5 734.2L228.4 736.5L230.4 739.1L232.4 741.8L234.4 744.8L236.3 747.9L238.3 751.3L240.3 754.8L242.3 758.4L244.2 762.2L246.2 766.2L248.2 770.3L250.2 774.5L252.1 778.9L254.1 783.4L256.1 788.0L258.0 792.7L260.0 797.5L262.0 802.4L264.0 807.3L265.9 812.4L267.9 817.5L269.9 822.7L271.9 828.0L273.8 833.3L275.8 838.6L277.8 844.0L279.8 849.5L281.7 855.0L283.7 860.5L285.7 866.0L287.6 871.6L289.6 877.2L291.6 882.8L293.6 888.4L295.5 894.1L297.5 899.7L299.5 905.3L301.5 910.9L303.4 916.6L305.4 922.2L307.4 927.8L309.4 933.4L311.3 938.9L313.3 944.5L315.3 950.0L317.2 955.5L319.2 961.0L321.2 966.4L323.2 971.8L325.1 977.2L327.1 982.5L329.1 987.8L331.1 993.1L333.0 998.3L335.0 1003.5L337.0 1008.6L339.0 1013.7L340.9 1018.7L342.9 1023.7L344.9 1028.7L346.8 1033.6L348.8 1038.4L350.8 1043.2L352.8 1047.9L354.7 1052.6L356.7 1057.2L358.7 1061.8L360.7 1066.3L362.6 1070.8L364.6 1075.2L366.6 1079.5L368.5 1083.8L370.5 1088.0L372.5 1092.2L374.5 1096.3L376.4 1100.3L378.4 1104.3L380.4 1108.2L382.4 1112.1L384.3 1115.9L386.3 1119.6L388.3 1123.3L390.3 1127.0L392.2 1130.5L394.2 1134.0L396.2 1137.5L398.1 1140.9L400.1 1144.2L402.1 1147.5L404.1 1150.7L406.0 1153.9L408.0 1157.0L410.0 1160.0L412.0 1163.0L413.9 1165.9L415.9 1168.8L417.9 1171.6L419.9 1174.4L421.8 1177.1L423.8 1179.7L425.8 1182.3L427.7 1184.9L429.7 1187.4L431.7 1189.8L433.7 1192.2L435.6 1194.5L437.6 1196.8L439.6 1199.1L441.6 1201.3L443.5 1203.4L445.5 1205.5L447.5 1207.5L449.5 1209.5L451.4 1211.5L453.4 1213.4L455.4 1215.3L457.3 1217.1L459.3 1218.9L461.3 1220.6L463.3 1222.3L465.2 1223.9L467.2 1225.6L469.2 1227.1L471.2 1228.7L473.1 1230.2L475.1 1231.6L477.1 1233.0L479.1 1234.4L481.0 1235.8L483.0 1237.1L485.0 1238.3L486.9 1239.6L488.9 1240.8L490.9 1242.0L492.9 1243.1L494.8 1244.2L496.8 1245.3L498.8 1246.3L500.8 1247.4L502.7 1248.3L504.7 1249.3L506.7 1250.2L508.6 1251.1L510.6 1252.0L512.6 1252.9L514.6 1253.7L516.5 1254.5L518.5 1255.3L520.5 1256.0L522.5 1256.8L524.4 1257.5L526.4 1258.2L528.4 1258.8L530.4 1259.5L532.3 1260.1L534.3 1260.7L536.3 1261.3L538.2 1261.8L540.2 1262.4L542.2 1262.9L544.2 1263.4L546.1 1263.9L548.1 1264.4L550.1 1264.9L552.1 1265.3L554.0 1265.7L556.0 1266.1L558.0 1266.5L560.0 1266.9L561.9 1267.3L563.9 1267.7L565.9 1268.0L567.8 1268.3L569.8 1268.6L571.8 1269.0L573.8 1269.3L575.7 1269.5L577.7 1269.8L579.7 1270.1L581.7 1270.3L583.6 1270.6L585.6 1270.8L587.6 1271.0L589.6 1271.2L591.5 1271.4L593.5 1271.6L595.5 1271.8L597.4 1272.0L599.4 1272.2L601.4 1272.4L603.4 1272.5L605.3 1272.7L607.3 1272.8L609.3 1273.0L611.3 1273.1L613.2 1273.2L615.2 1273.4L617.2 1273.5L619.2 1273.6L621.1 1273.7L623.1 1273.8L625.1 1273.9L627.0 1274.0L629.0 1274.1L631.0 1274.2L633.0 1274.2L634.9 1274.3L636.9 1274.4L638.9 1274.5L640.9 1274.5L642.8 1274.6L644.8 1274.6L646.8 1274.7L648.8 1274.7L650.7 1274.8L652.7 1274.8L654.7 1274.9L656.6 1274.9L658.6 1275.0L660.6 1275.0L662.6 1275.1L664.5 1275.1L666.5 1275.1L668.5 1275.2L670.5 1275.2L672.4 1275.2L674.4 1275.2L676.4 1275.3L678.3 1275.3L680.3 1275.3L682.3 1275.3L684.3 1275.3L686.2 1275.4L688.2 1275.4L690.2 1275.4L692.2 1275.4L694.1 1275.4L696.1 1275.4L698.1 1275.4L700.1 1275.5L702.0 1275.5L704.0 1275.5L706.0 1275.5L707.9 1275.5L709.9 1275.5L711.9 1275.5L713.9 1275.5L715.8 1275.5L717.8 1275.5L719.8 1275.5L721.8 1275.5L723.7 1275.5L725.7 1275.6L727.7 1275.6L729.7 1275.6L731.6 1275.6L733.6 1275.6L735.6 1275.6L737.5 1275.6L739.5 1275.6L741.5 1275.6L743.5 1275.6L745.4 1275.6L747.4 1275.6L749.4 1275.6L751.4 1275.6L753.3 1275.6L755.3 1275.6L757.3 1275.6L759.3 1275.6L761.2 1275.6L763.2 1275.6L765.2 1275.6L767.1 1275.6L769.1 1275.6L771.1 1275.6L773.1 1275.6L775.0 1275.6L777.0 1275.6L779.0 1275.6L781.0 1275.6L782.9 1275.6L784.9 1275.6L786.9 1275.6L788.9 1275.6L790.8 1275.6L792.8 1275.6L794.8 1275.6L796.7 1275.6L798.7 1275.6L800.7 1275.6L802.7 1275.6L804.6 1275.6L806.6 1275.6L808.6 1275.6L810.6 1275.6L812.5 1275.6L814.5 1275.6L816.5 1275.6L818.5 1275.6L820.4 1275.6L822.4 1275.6L824.4 1275.6L826.3 1275.6L828.3 1275.6L830.3 1275.6L832.3 1275.6L834.2 1275.6L836.2 1275.6L838.2 1275.6L840.2 1275.6L842.1 1275.6L844.1 1275.6L846.1 1275.6L848.0 1275.6L850.0 1275.6L852.0 1275.6L854.0 1275.6L855.9 1275.6L857.9 1275.6L859.9 1275.6L861.9 1275.6L863.8 1275.6L865.8 1275.6L867.8 1275.6L869.8 1275.6L871.7 1275.6L873.7 1275.6L875.7 1275.6L877.6 1275.6L879.6 1275.6L881.6 1275.6L883.6 1275.6L885.5 1275.6L887.5 1275.6L889.5 1275.6L891.5 1275.6L893.4 1275.6L895.4 1275.6L897.4 1275.6L899.4 1275.6L901.3 1275.6L903.3 1275.6" fill="none" stroke="#0f0" stroke-width="3.5" stroke-linejoin="round"/>
<circle cx="186.4" cy="710.3" r="7.4" fill="url(#hc)"/><circle cx="161.5" cy="747.7" r="7.4" fill="url(#hc)"/><circle cx="209.4" cy="729.4" r="7.4" fill="url(#hc)"/><circle cx="136.8" cy="827.8" r="7.4" fill="url(#hc)"/><circle cx="133.0" cy="834.9" r="7.4" fill="url(#hc)"/><circle cx="138.1" cy="833.8" r="7.4" fill="url(#hc)"/><circle cx="129.2" cy="849.0" r="7.4" fill="url(#hc)"/><circle cx="127.9" cy="868.6" r="7.4" fill="url(#hc)"/><circle cx="125.4" cy="889.1" r="7.4" fill="url(#hc)"/><circle cx="122.8" cy="914.2" r="7.4" fill="url(#hc)"/><circle cx="120.3" cy="942.4" r="7.4" fill="url(#hc)"/><circle cx="118.3" cy="972.8" r="7.4" fill="url(#hc)"/><circle cx="234.7" cy="835.8" r="7.4" fill="url(#hc)"/><circle cx="259.3" cy="1019.2" r="7.4" fill="url(#hc)"/><circle cx="283.9" cy="1071.7" r="7.4" fill="url(#hc)"/><circle cx="308.0" cy="1110.0" r="7.4" fill="url(#hc)"/><circle cx="356.3" cy="1108.7" r="7.4" fill="url(#hc)"/><circle cx="356.3" cy="1116.8" r="7.4" fill="url(#hc)"/><circle cx="332.1" cy="1138.4" r="7.4" fill="url(#hc)"/><circle cx="417.2" cy="1130.3" r="7.4" fill="url(#hc)"/><circle cx="478.1" cy="1147.0" r="7.4" fill="url(#hc)"/><circle cx="599.7" cy="1066.9" r="7.4" fill="url(#hc)"/><circle cx="539.0" cy="1161.0" r="7.4" fill="url(#hc)"/><circle cx="660.1" cy="1083.1" r="7.4" fill="url(#hc)"/><circle cx="720.5" cy="1116.3" r="7.4" fill="url(#hc)"/><circle cx="781.4" cy="1150.7" r="7.4" fill="url(#hc)"/><circle cx="842.4" cy="1187.5" r="7.4" fill="url(#hc)"/><circle cx="903.0" cy="1228.6" r="7.4" fill="url(#hc)"/>
<circle cx="199.3" cy="729.2" r="7.4" fill="url(#hm)"/><circle cx="171.0" cy="769.5" r="7.4" fill="url(#hm)"/><circle cx="228.2" cy="793.0" r="7.4" fill="url(#hm)"/><circle cx="139.3" cy="884.5" r="7.4" fill="url(#hm)"/><circle cx="141.9" cy="890.9" r="7.4" fill="url(#hm)"/><circle cx="142.4" cy="908.6" r="7.4" fill="url(#hm)"/><circle cx="133.5" cy="921.3" r="7.4" fill="url(#hm)"/><circle cx="130.4" cy="954.3" r="7.4" fill="url(#hm)"/><circle cx="127.4" cy="992.7" r="7.4" fill="url(#hm)"/><circle cx="256.8" cy="912.4" r="7.4" fill="url(#hm)"/><circle cx="124.9" cy="1038.2" r="7.4" fill="url(#hm)"/><circle cx="122.8" cy="1089.4" r="7.4" fill="url(#hm)"/><circle cx="119.8" cy="1148.5" r="7.4" fill="url(#hm)"/><circle cx="286.5" cy="1039.5" r="7.4" fill="url(#hm)"/><circle cx="315.1" cy="1114.3" r="7.4" fill="url(#hm)"/><circle cx="343.6" cy="1156.6" r="7.4" fill="url(#hm)"/><circle cx="372.3" cy="1177.9" r="7.4" fill="url(#hm)"/><circle cx="400.7" cy="1188.8" r="7.4" fill="url(#hm)"/><circle cx="400.7" cy="1199.0" r="7.4" fill="url(#hm)"/><circle cx="472.5" cy="1209.6" r="7.4" fill="url(#hm)"/><circle cx="544.6" cy="1220.5" r="7.4" fill="url(#hm)"/><circle cx="615.6" cy="1231.2" r="7.4" fill="url(#hm)"/><circle cx="687.5" cy="1240.8" r="7.4" fill="url(#hm)"/><circle cx="759.3" cy="1256.5" r="7.4" fill="url(#hm)"/><circle cx="830.9" cy="1262.6" r="7.4" fill="url(#hm)"/><circle cx="903.0" cy="1266.0" r="7.4" fill="url(#hm)"/>
<circle cx="161.0" cy="710.3" r="7.4" fill="url(#hn)"/><circle cx="149.7" cy="758.7" r="7.4" fill="url(#hn)"/><circle cx="152.4" cy="735.6" r="7.4" fill="url(#hn)"/><circle cx="166.4" cy="751.9" r="7.4" fill="url(#hn)"/><circle cx="164.6" cy="786.6" r="7.4" fill="url(#hn)"/><circle cx="145.2" cy="796.7" r="7.4" fill="url(#hn)"/><circle cx="218.2" cy="729.0" r="7.4" fill="url(#hn)"/><circle cx="271.2" cy="766.9" r="7.4" fill="url(#hn)"/><circle cx="139.8" cy="843.2" r="7.4" fill="url(#hn)"/><circle cx="134.8" cy="899.0" r="7.4" fill="url(#hn)"/><circle cx="129.9" cy="969.0" r="7.4" fill="url(#hn)"/><circle cx="123.6" cy="1057.2" r="7.4" fill="url(#hn)"/><circle cx="119.0" cy="1158.8" r="7.4" fill="url(#hn)"/><circle cx="323.7" cy="1025.0" r="7.4" fill="url(#hn)"/><circle cx="376.1" cy="1170.3" r="7.4" fill="url(#hn)"/><circle cx="429.4" cy="1214.2" r="7.4" fill="url(#hn)"/><circle cx="482.4" cy="1215.4" r="7.4" fill="url(#hn)"/><circle cx="535.2" cy="1246.9" r="7.4" fill="url(#hn)"/><circle cx="587.7" cy="1261.1" r="7.4" fill="url(#hn)"/><circle cx="640.1" cy="1267.2" r="7.4" fill="url(#hn)"/><circle cx="771.5" cy="1274.0" r="7.4" fill="url(#hn)"/>
<circle cx="150.9" cy="729.1" r="7.4" fill="url(#hd)"/><circle cx="157.5" cy="734.9" r="7.4" fill="url(#hd)"/><circle cx="145.1" cy="749.1" r="7.4" fill="url(#hd)"/><circle cx="163.7" cy="756.2" r="7.4" fill="url(#hd)"/><circle cx="170.0" cy="783.9" r="7.4" fill="url(#hd)"/><circle cx="138.8" cy="789.9" r="7.4" fill="url(#hd)"/><circle cx="132.5" cy="858.4" r="7.4" fill="url(#hd)"/><circle cx="176.6" cy="852.1" r="7.4" fill="url(#hd)"/><circle cx="239.5" cy="869.8" r="7.4" fill="url(#hd)"/><circle cx="176.6" cy="901.8" r="7.4" fill="url(#hd)"/><circle cx="303.0" cy="920.6" r="7.4" fill="url(#hd)"/><circle cx="126.1" cy="966.5" r="7.4" fill="url(#hd)"/><circle cx="119.8" cy="1092.7" r="7.4" fill="url(#hd)"/><circle cx="119.8" cy="1105.4" r="7.4" fill="url(#hd)"/><circle cx="118.3" cy="1118.9" r="7.4" fill="url(#hd)"/><circle cx="117.8" cy="1134.6" r="7.4" fill="url(#hd)"/><circle cx="365.7" cy="1142.7" r="7.4" fill="url(#hd)"/><circle cx="492.8" cy="1198.2" r="7.4" fill="url(#hd)"/><circle cx="428.6" cy="1230.4" r="7.4" fill="url(#hd)"/><circle cx="556.0" cy="1194.9" r="7.4" fill="url(#hd)"/><circle cx="619.0" cy="1209.1" r="7.4" fill="url(#hd)"/><circle cx="682.4" cy="1201.5" r="7.4" fill="url(#hd)"/><circle cx="745.1" cy="1245.9" r="7.4" fill="url(#hd)"/><circle cx="745.1" cy="1114.8" r="7.4" fill="url(#hd)"/><circle cx="903.0" cy="1184.0" r="7.4" fill="url(#hd)"/>
</g>
<rect x="114.0" y="675.0" width="789.2" height="600.7" fill="none" stroke="#000" stroke-width="2.2"/>
<path d="M114.0 1275.6H102.2M114.0 1275.7V1287.5M114.0 1220.9H108.0M192.9 1275.7V1281.7M114.0 1166.2H102.2M271.9 1275.7V1287.5M114.0 1111.5H108.0M350.8 1275.7V1281.7M114.0 1056.8H102.2M429.7 1275.7V1287.5M114.0 1002.1H108.0M508.6 1275.7V1281.7M114.0 947.4H102.2M587.6 1275.7V1287.5M114.0 892.7H108.0M666.5 1275.7V1281.7M114.0 838.0H102.2M745.4 1275.7V1287.5M114.0 783.3H108.0M824.4 1275.7V1281.7M114.0 728.6H102.2M903.3 1275.7V1287.5" stroke="#000" stroke-width="2.2" fill="none"/>
<text x="94" y="1284.8" font-size="26" text-anchor="end" class="t">0.0</text>
<text x="114.0" y="1306.8" font-size="26" text-anchor="middle" class="t">0.0</text>
<text x="94" y="1175.4" font-size="26" text-anchor="end" class="t">0.2</text>
<text x="271.9" y="1306.8" font-size="26" text-anchor="middle" class="t">0.2</text>
<text x="94" y="1066.0" font-size="26" text-anchor="end" class="t">0.4</text>
<text x="429.7" y="1306.8" font-size="26" text-anchor="middle" class="t">0.4</text>
<text x="94" y="956.6" font-size="26" text-anchor="end" class="t">0.6</text>
<text x="587.6" y="1306.8" font-size="26" text-anchor="middle" class="t">0.6</text>
<text x="94" y="847.2" font-size="26" text-anchor="end" class="t">0.8</text>
<text x="745.4" y="1306.8" font-size="26" text-anchor="middle" class="t">0.8</text>
<text x="94" y="737.8" font-size="26" text-anchor="end" class="t">1.0</text>
<text x="903.3" y="1306.8" font-size="26" text-anchor="middle" class="t">1.0</text>
<g transform="translate(211.8,685.0) rotate(90.5)"><path d="M1.2 -1.1H9.0V-6.5L32.9 0L9.0 6.5V1.1H1.2Z" fill="#0f0" stroke="#0f0" stroke-width="2.4" stroke-linejoin="round"/></g>
<g transform="translate(256.3,687.4) rotate(90.3)"><path d="M1.2 -1.1H8.6V-6.5L32.5 0L8.6 6.5V1.1H1.2Z" fill="#f00" stroke="#f00" stroke-width="2.4" stroke-linejoin="round"/></g>
<g transform="translate(410.9,844.7) rotate(148.4)"><path d="M1.2 -1.1H33.3V-6.5L57.2 0L33.3 6.5V1.1H1.2Z" fill="#f00" stroke="#f00" stroke-width="2.4" stroke-linejoin="round"/></g>
<g transform="translate(420.6,966.5) rotate(168.5)"><path d="M1.2 -1.1H60.2V-6.5L84.1 0L60.2 6.5V1.1H1.2Z" fill="#0f0" stroke="#0f0" stroke-width="2.4" stroke-linejoin="round"/></g>
<rect x="306.5" y="681.4" width="352.7" height="58.8" fill="#fff" stroke="#000" stroke-width="2"/>
<text y="721.8" font-size="38" class="s" stroke="#000" stroke-width="0.7"><tspan x="315.0" font-style="italic" y="721.8">f</tspan><tspan x="337.5" y="721.8">(</tspan><tspan x="348.7" font-style="italic" y="721.8">h</tspan><tspan x="367.0" y="721.8">)</tspan><tspan x="400.8" y="721.8" textLength="29.5" lengthAdjust="spacingAndGlyphs">=</tspan><tspan x="443.0" font-style="italic" y="721.8" textLength="22.5" lengthAdjust="spacingAndGlyphs">A</tspan><tspan x="465.5" font-style="italic" y="721.8">h</tspan><tspan x="484.5" font-style="italic" y="710.5" font-size="27">p</tspan><tspan x="509.5" y="721.8">(</tspan><tspan x="520.8" y="721.8">1</tspan><tspan x="548.3" y="721.8" textLength="32.5" lengthAdjust="spacingAndGlyphs">−</tspan><tspan x="593.2" font-style="italic" y="721.8">h</tspan><tspan x="613.0" y="721.8">)</tspan><tspan x="629.5" font-style="italic" y="710.5" font-size="27">q</tspan></text>
<text y="826.0" font-size="38" class="s" stroke="#000" stroke-width="0.7"><tspan x="367.3" y="826.0" textLength="91.5" lengthAdjust="spacingAndGlyphs">14.32</tspan><tspan x="459.5" font-style="italic" y="826.0" textLength="19.5" lengthAdjust="spacingAndGlyphs">h</tspan><tspan x="479.0" y="814.7" font-size="27" textLength="38.5" lengthAdjust="spacingAndGlyphs">1.2</tspan><tspan x="522.0" y="826.0">(</tspan><tspan x="533.6" y="826.0">1</tspan><tspan x="565.0" y="826.0" textLength="34.5" lengthAdjust="spacingAndGlyphs">−</tspan><tspan x="605.6" font-style="italic" y="826.0" textLength="19.5" lengthAdjust="spacingAndGlyphs">h</tspan><tspan x="626.0" y="826.0">)</tspan><tspan x="641.0" y="814.7" font-size="27" textLength="39.5" lengthAdjust="spacingAndGlyphs">3.6</tspan></text>
<text y="949.3" font-size="38" class="s" stroke="#000" stroke-width="0.7"><tspan x="396.8" y="949.3" textLength="45.5" lengthAdjust="spacingAndGlyphs">12</tspan><tspan x="441.3" font-style="italic" y="949.3" textLength="19.5" lengthAdjust="spacingAndGlyphs">h</tspan><tspan x="461.5" y="938.0" font-size="27" textLength="34.5" lengthAdjust="spacingAndGlyphs">0.7</tspan><tspan x="502.5" y="949.3">(</tspan><tspan x="515.2" y="949.3">1</tspan><tspan x="546.4" y="949.3" textLength="29.5" lengthAdjust="spacingAndGlyphs">−</tspan><tspan x="585.3" font-style="italic" y="949.3" textLength="19.5" lengthAdjust="spacingAndGlyphs">h</tspan><tspan x="607.0" y="949.3">)</tspan><tspan x="622.3" y="938.0" font-size="27" textLength="53.8" lengthAdjust="spacingAndGlyphs">8.57</tspan></text>
<circle cx="721.7" cy="704.2" r="7.5" fill="url(#hr)"/>
<text x="765.2" y="714.3" font-size="30.6" class="t">10 K</text>
<line x1="686.6" y1="742.2" x2="756.2" y2="742.2" stroke="#f00" stroke-width="3.5"/>
<text x="765" y="752.0" font-size="30.6" class="t"><tspan class="i">h</tspan> = 0.180</text>
<circle cx="721.2" cy="780.4" r="7.5" fill="url(#hg)"/>
<text x="764.7" y="790.5" font-size="30.6" class="t">20 K</text>
<circle cx="720.6" cy="819.0" r="7.5" fill="url(#hb)"/>
<text x="764.1" y="828.5" font-size="30.6" class="t">30 K</text>
<line x1="686.6" y1="856.4" x2="756.2" y2="856.4" stroke="#0f0" stroke-width="3.5"/>
<text x="765" y="866.2" font-size="30.6" class="t"><tspan class="i">h</tspan> = 0.123</text>
<circle cx="721.7" cy="896.8" r="7.5" fill="url(#hc)"/>
<text x="765.2" y="906.6" font-size="30.6" class="t">40 K</text>
<circle cx="719.3" cy="933.4" r="7.5" fill="url(#hm)"/>
<text x="762.8" y="943.3" font-size="30.6" class="t">50 K</text>
<circle cx="720.6" cy="967.2" r="7.5" fill="url(#hn)"/>
<text x="764.1" y="977.3" font-size="30.6" class="t">60 K</text>
<circle cx="719.3" cy="1004.9" r="7.5" fill="url(#hd)"/>
<text x="762.8" y="1015.0" font-size="30.6" class="t">70 K</text>
<text x="441.5" y="1337.4" font-size="31" class="b i" textLength="145.5" lengthAdjust="spacingAndGlyphs">h = H / H<tspan font-size="18" dy="11" font-style="normal">irr</tspan></text>
<g transform="translate(37.2,1036) rotate(-90)"><text font-size="35" class="b i"><tspan x="0" y="0">F</tspan><tspan x="21" y="12" font-size="20">P</tspan><tspan x="41" y="0">/</tspan><tspan x="62.5" y="0">F</tspan><tspan x="83.5" y="12" font-size="20">P</tspan><tspan x="89" y="-16.5" font-size="20" textLength="41" lengthAdjust="spacingAndGlyphs">max</tspan></text></g>
<text x="2" y="713.5" font-size="46" class="b" textLength="57" lengthAdjust="spacingAndGlyphs">(b)</text>
</svg></body></html>
